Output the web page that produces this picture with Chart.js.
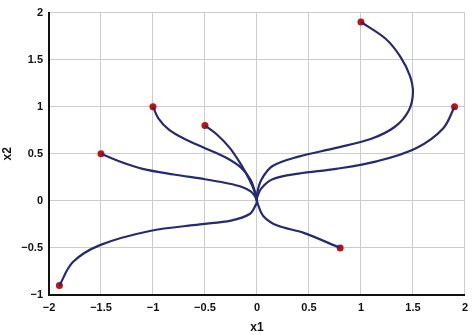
<!DOCTYPE html>
<html>
<head>
<meta charset="utf-8">
<script src="https://cdn.jsdelivr.net/npm/chart.js@4"></script>
<style>
  html, body { margin: 0; padding: 0; background: #fff; }
  #wrap { width: 474px; height: 335px; }
</style>
</head>
<body>
<div id="wrap"><canvas id="phaseChart"></canvas></div>
<script>
// Trajectories, [x1, x2]
const trajA = [[-1.5, 0.5], [-1.3, 0.41], [-1.1, 0.34], [-0.8, 0.28], [-0.5, 0.23], [-0.3, 0.19], [-0.15, 0.15], [-0.06, 0.1], [-0.02, 0.05], [0, 0]];
const trajB = [[-1, 1], [-0.95, 0.88], [-0.85, 0.76], [-0.7, 0.66], [-0.5, 0.56], [-0.3, 0.46], [-0.15, 0.35], [-0.06, 0.22], [-0.02, 0.1], [0, 0]];
const trajC = [[-0.5, 0.8], [-0.38, 0.7], [-0.26, 0.56], [-0.15, 0.38], [-0.07, 0.22], [-0.02, 0.09], [0, 0]];
const trajD = [[1, 1.9], [1.24, 1.72], [1.38, 1.53], [1.47, 1.33], [1.5, 1.15], [1.46, 0.96], [1.33, 0.79], [1.1, 0.66], [0.75, 0.56], [0.4, 0.47], [0.15, 0.37], [0.04, 0.22], [0, 0.07], [0, 0]];
const trajE = [[1.9, 1], [1.79, 0.77], [1.53, 0.56], [1.15, 0.42], [0.76, 0.34], [0.4, 0.29], [0.15, 0.23], [0.04, 0.13], [0, 0.03], [0, 0]];
const trajF = [[-1.9, -0.9], [-1.77, -0.65], [-1.51, -0.47], [-1.03, -0.32], [-0.55, -0.25], [-0.25, -0.21], [-0.07, -0.14], [-0.01, -0.04], [0, 0]];
const trajG = [[0.8, -0.5], [0.45, -0.34], [0.19, -0.26], [0.06, -0.16], [0.01, -0.04], [0, 0]];

const trajectories = [trajA, trajB, trajC, trajD, trajE, trajF, trajG];
const xTicks = [-2, -1.5, -1, -0.5, 0, 0.5, 1, 1.5, 2];
const yTicks = [-1, -0.5, 0, 0.5, 1, 1.5, 2];

const lineColor = '#262a6e';
const dotColor = '#c41010';

function toPoints(traj) {
    return traj.map(p => ({ x: p[0], y: p[1] }));
}

function fmt(v) {
    return v < 0 ? '\u2212' + Math.abs(v) : String(v);
}

const datasets = trajectories.map(t => ({
    data: toPoints(t),
    showLine: true,
    borderColor: lineColor,
    borderWidth: 2.2,
    pointRadius: 0,
    tension: 0.35,
    fill: false
}));

// Starting points in red
datasets.push({
    data: trajectories.map(t => ({ x: t[0][0], y: t[0][1] })),
    showLine: false,
    pointRadius: 3.5,
    backgroundColor: dotColor,
    borderColor: dotColor,
    borderWidth: 0
});

const tickFont = { family: "'Liberation Sans', Arial, sans-serif", size: 11, weight: 'bold' };
const titleFont = { family: "'Liberation Sans', Arial, sans-serif", size: 12, weight: 'bold' };

new Chart(document.getElementById('phaseChart'), {
    type: 'scatter',
    data: { datasets: datasets },
    options: {
        responsive: true,
        maintainAspectRatio: false,
        animation: false,
        layout: { padding: { top: 10, right: 8, left: 0, bottom: 0 } },
        plugins: {
            legend: { display: false },
            tooltip: { enabled: false }
        },
        scales: {
            x: {
                type: 'linear',
                min: -2,
                max: 2,
                afterBuildTicks: s => { s.ticks = xTicks.map(v => ({ value: v })); },
                afterFit: s => { s.height = 40; },
                grid: { color: '#cccccc', lineWidth: 1, drawTicks: false },
                border: { color: '#111', width: 2 },
                ticks: {
                    color: '#111',
                    font: tickFont,
                    padding: 6,
                    maxRotation: 0,
                    callback: v => fmt(v)
                },
                title: {
                    display: true,
                    text: 'x1',
                    color: '#111',
                    font: titleFont,
                    padding: { top: 2, bottom: 0 }
                }
            },
            y: {
                type: 'linear',
                min: -1,
                max: 2,
                afterBuildTicks: s => { s.ticks = yTicks.map(v => ({ value: v })); },
                afterFit: s => { s.width = 49; },
                grid: { color: '#cccccc', lineWidth: 1, drawTicks: false },
                border: { color: '#111', width: 2 },
                ticks: {
                    color: '#111',
                    font: tickFont,
                    padding: 6,
                    callback: v => fmt(v)
                },
                title: {
                    display: true,
                    text: 'x2',
                    color: '#111',
                    font: titleFont,
                    padding: { top: 0, bottom: 4 }
                }
            }
        }
    }
});
</script>
</body>
</html>
